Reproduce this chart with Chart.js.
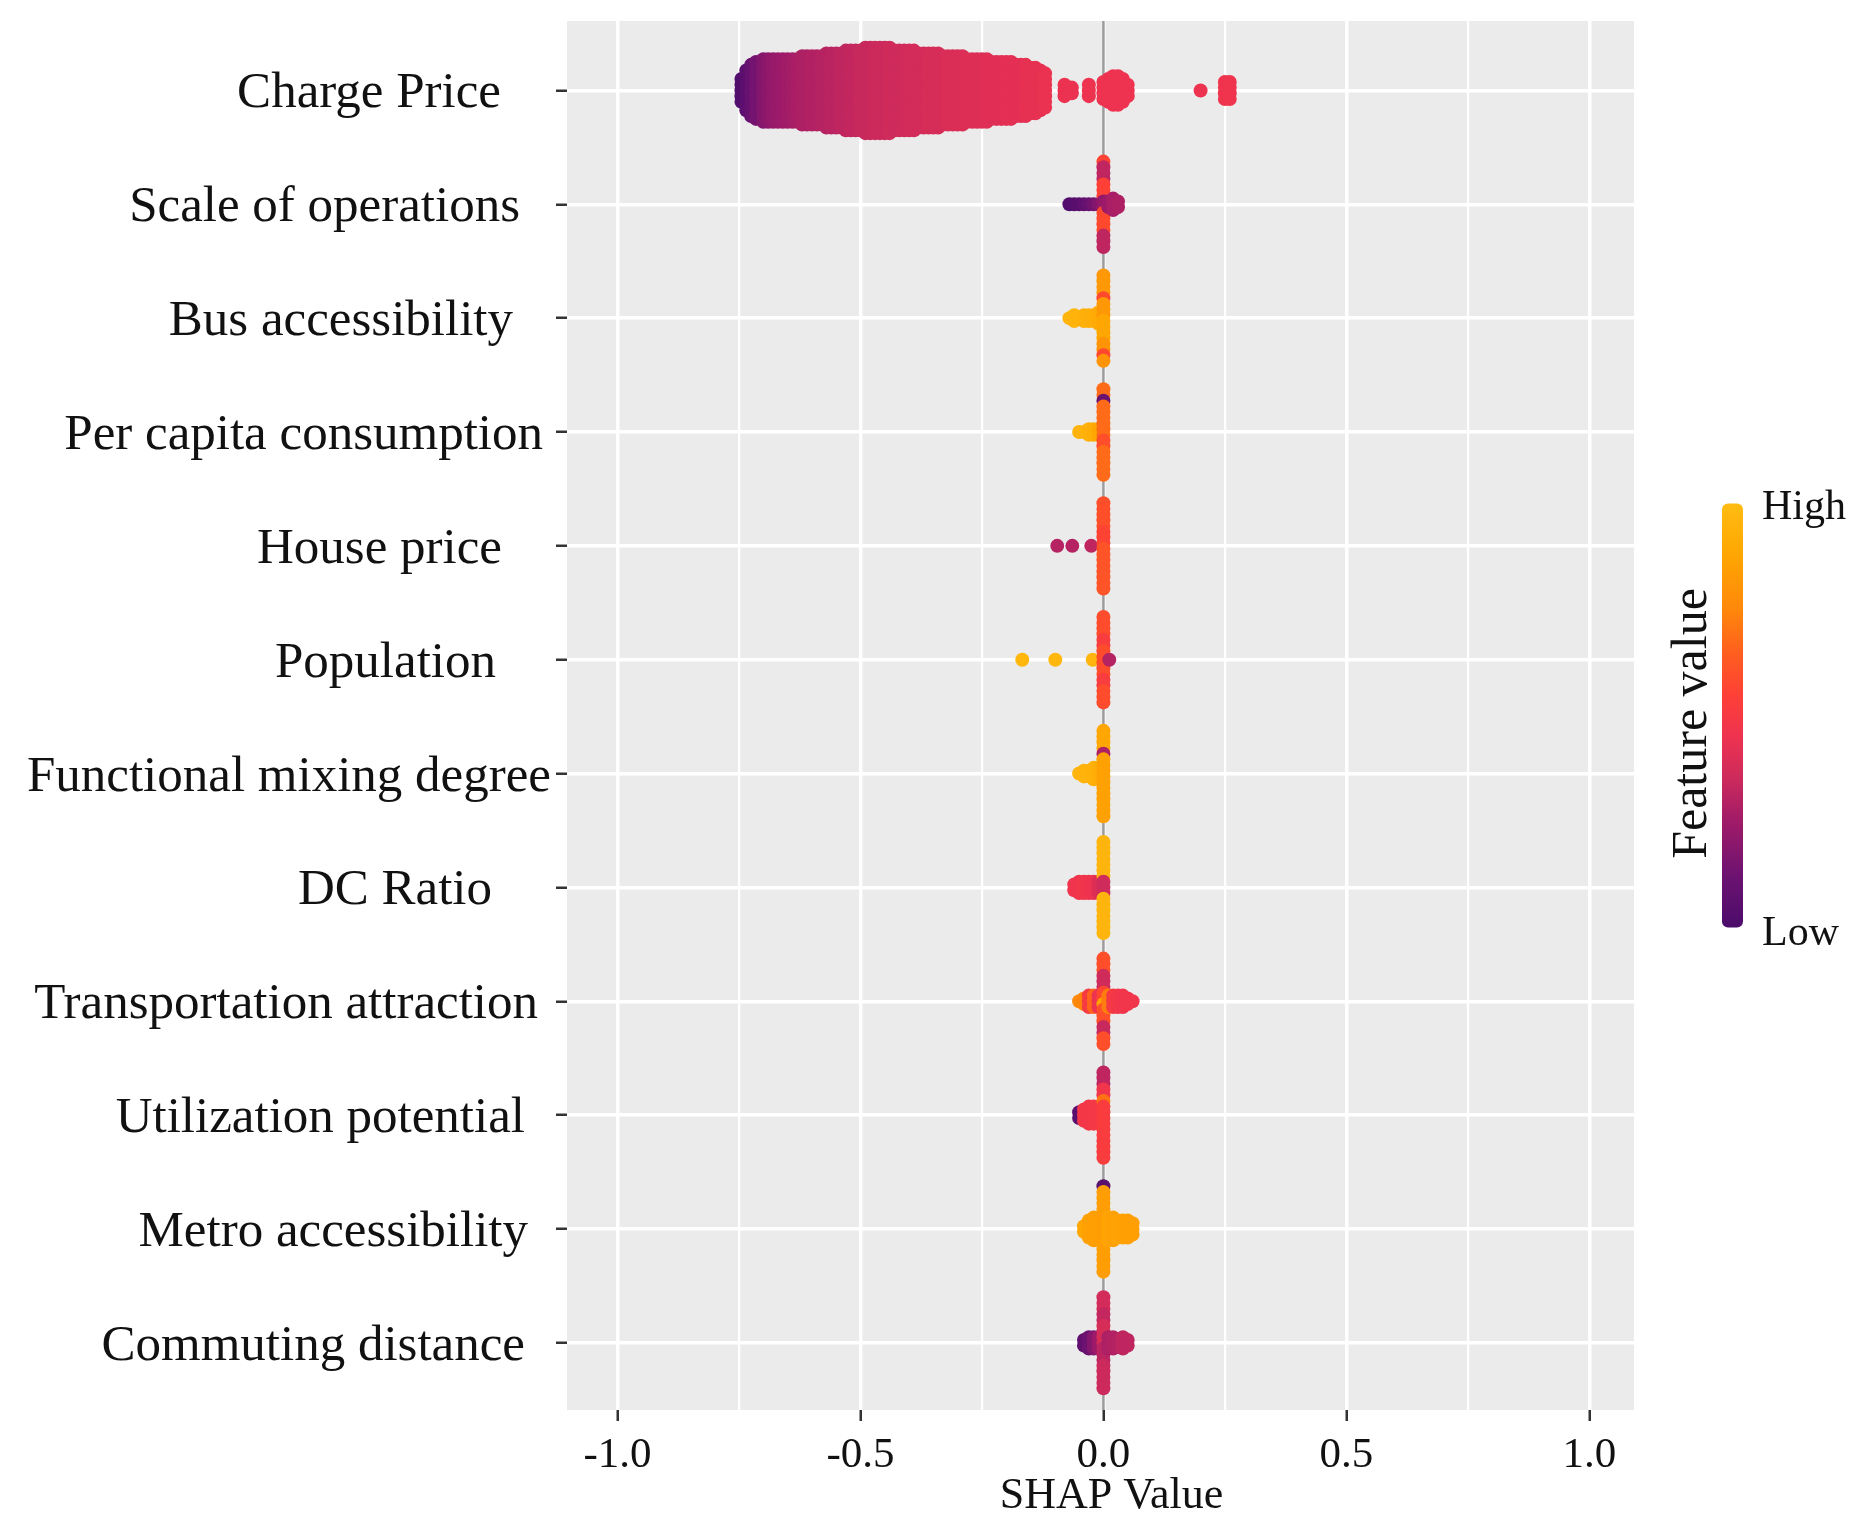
<!DOCTYPE html>
<html>
<head>
<meta charset="utf-8">
<script src="https://cdn.jsdelivr.net/npm/chart.js@4.4.1/dist/chart.umd.min.js"></script>
<style>
  html, body { margin: 0; background: #fff; }
  #wrap { width: 1861px; height: 1528px; }
</style>
</head>
<body>
<div id="wrap"><canvas id="shap"></canvas></div>
<script>
// feature names, top to bottom
const features = [
  "Charge Price", "Scale of operations", "Bus accessibility", "Per capita consumption",
  "House price", "Population", "Functional mixing degree", "DC Ratio",
  "Transportation attraction", "Utilization potential", "Metro accessibility", "Commuting distance"
];

// each row: [SHAP value, number of samples at that value, feature value 0..1]
const chargePrice = [
  [-0.745, 5, 0.03], [-0.735, 8, 0.06], [-0.725, 10, 0.10], [-0.715, 11, 0.14],
  [-0.70, 12, 0.18], [-0.69, 12, 0.20], [-0.68, 12, 0.22], [-0.67, 12, 0.23],
  [-0.66, 12, 0.24], [-0.65, 12, 0.25], [-0.64, 12, 0.26], [-0.63, 12, 0.27],
  [-0.62, 13, 0.28], [-0.61, 13, 0.28], [-0.60, 13, 0.29], [-0.59, 13, 0.29],
  [-0.58, 13, 0.30], [-0.57, 14, 0.30], [-0.56, 14, 0.31], [-0.55, 14, 0.31],
  [-0.54, 14, 0.32], [-0.53, 15, 0.32], [-0.52, 15, 0.33], [-0.51, 15, 0.33],
  [-0.50, 15, 0.34], [-0.49, 16, 0.34], [-0.48, 16, 0.34], [-0.47, 16, 0.35],
  [-0.46, 16, 0.35], [-0.45, 16, 0.35], [-0.44, 16, 0.36], [-0.43, 15, 0.36],
  [-0.42, 15, 0.36], [-0.41, 15, 0.36], [-0.40, 15, 0.37], [-0.39, 15, 0.37],
  [-0.38, 14, 0.37], [-0.37, 14, 0.37], [-0.36, 14, 0.38], [-0.35, 14, 0.38],
  [-0.34, 14, 0.38], [-0.33, 13, 0.38], [-0.32, 13, 0.39], [-0.31, 13, 0.39],
  [-0.30, 13, 0.39], [-0.29, 13, 0.39], [-0.28, 12, 0.40], [-0.27, 12, 0.40],
  [-0.26, 12, 0.40], [-0.25, 12, 0.40], [-0.24, 12, 0.41], [-0.23, 11, 0.41],
  [-0.22, 11, 0.41], [-0.21, 11, 0.41], [-0.20, 11, 0.42], [-0.19, 11, 0.42],
  [-0.18, 10, 0.42], [-0.17, 10, 0.42], [-0.16, 10, 0.43], [-0.15, 9, 0.43],
  [-0.14, 9, 0.43], [-0.13, 8, 0.43], [-0.12, 7, 0.44],
  [-0.08, 3, 0.44], [-0.065, 2, 0.44], [-0.03, 3, 0.45],
  [0.00, 4, 0.45], [0.01, 5, 0.45], [0.02, 6, 0.45], [0.03, 6, 0.45],
  [0.04, 5, 0.45], [0.05, 3, 0.45],
  [0.20, 1, 0.45], [0.25, 4, 0.46], [0.26, 4, 0.46]
];
const scaleOfOperations = [
  [-0.07, 1, 0.03], [-0.06, 1, 0.04], [-0.05, 1, 0.05], [-0.04, 1, 0.08],
  [-0.03, 1, 0.10], [-0.02, 1, 0.14], [-0.01, 1, 0.18],
  [0, 1, 0.56], [0, 3, 0.32], [0, 3, 0.55], [0, 2, 0.22], [0, 4, 0.58], [0, 3, 0.32],
  [0.01, 2, 0.24], [0.02, 3, 0.27], [0.03, 2, 0.28]
];
const busAccessibility = [
  [-0.07, 1, 0.96], [-0.06, 2, 0.95], [-0.05, 1, 0.95], [-0.04, 2, 0.94],
  [-0.03, 2, 0.93], [-0.02, 2, 0.92], [-0.01, 3, 0.90],
  [0, 4, 0.82], [0, 1, 0.58], [0, 3, 0.82], [0, 4, 0.88], [0, 2, 0.80], [0, 1, 0.58], [0, 1, 0.80]
];
const perCapitaConsumption = [
  [-0.05, 1, 0.95], [-0.04, 1, 0.95], [-0.03, 2, 0.94], [-0.02, 2, 0.92], [-0.01, 2, 0.88],
  [0, 2, 0.68], [0, 1, 0.12], [0, 6, 0.68], [0, 2, 0.60], [0, 5, 0.68]
];
const housePrice = [
  [-0.095, 1, 0.30], [-0.064, 1, 0.30], [-0.025, 1, 0.32],
  [0, 5, 0.60], [0, 3, 0.56], [0, 8, 0.61]
];
const population = [
  [-0.167, 1, 0.97], [-0.099, 1, 0.97], [-0.022, 1, 0.96],
  [0, 4, 0.59], [0, 2, 0.52], [0, 5, 0.59], [0, 2, 0.52], [0, 3, 0.59],
  [0.012, 1, 0.30]
];
const functionalMixingDegree = [
  [-0.05, 1, 0.96], [-0.04, 2, 0.95], [-0.03, 2, 0.95], [-0.02, 3, 0.94], [-0.01, 3, 0.92],
  [0, 4, 0.88], [0, 1, 0.28], [0, 11, 0.86]
];
const dcRatio = [
  [-0.06, 2, 0.46], [-0.05, 3, 0.46], [-0.04, 3, 0.47], [-0.03, 3, 0.46],
  [-0.02, 3, 0.45], [-0.01, 3, 0.40],
  [0, 7, 0.96], [0, 3, 0.36], [0, 7, 0.96]
];
const transportationAttraction = [
  [-0.05, 1, 0.76], [-0.04, 2, 0.74], [-0.03, 3, 0.50], [-0.02, 3, 0.66], [-0.01, 3, 0.45],
  [0, 3, 0.60], [0, 3, 0.36], [0, 2, 0.57], [0, 1, 0.86], [0, 3, 0.60], [0, 2, 0.34], [0, 2, 0.60],
  [0.01, 3, 0.72], [0.02, 3, 0.50], [0.03, 3, 0.48], [0.04, 3, 0.47], [0.05, 2, 0.47], [0.06, 1, 0.47]
];
const utilizationPotential = [
  [-0.05, 2, 0.05], [-0.04, 3, 0.48], [-0.03, 4, 0.48], [-0.02, 4, 0.49], [-0.01, 4, 0.49],
  [0, 3, 0.32], [0, 2, 0.47], [0, 1, 0.70], [0, 10, 0.52]
];
const metroAccessibility = [
  [-0.04, 2, 0.88], [-0.03, 4, 0.86], [-0.02, 5, 0.85], [-0.01, 5, 0.85],
  [0, 1, 0.05], [0, 15, 0.84],
  [0.01, 5, 0.87], [0.02, 5, 0.86], [0.03, 4, 0.87], [0.04, 4, 0.86], [0.05, 4, 0.85], [0.06, 3, 0.85]
];
const commutingDistance = [
  [-0.04, 2, 0.08], [-0.03, 3, 0.12], [-0.02, 3, 0.18], [-0.01, 3, 0.24],
  [0, 3, 0.37], [0, 2, 0.33], [0, 4, 0.38], [0, 3, 0.31], [0, 5, 0.35],
  [0.01, 3, 0.28], [0.02, 3, 0.29], [0.03, 2, 0.30], [0.04, 3, 0.32], [0.05, 2, 0.32]
];

const shapRows = [
  chargePrice, scaleOfOperations, busAccessibility, perCapitaConsumption,
  housePrice, population, functionalMixingDegree, dcRatio,
  transportationAttraction, utilizationPotential, metroAccessibility, commutingDistance
];

const xTickValues = [-1.0, -0.75, -0.5, -0.25, 0, 0.25, 0.5, 0.75, 1.0];
const xTitle = "SHAP Value";
const legendTitle = "Feature value";
const legendHigh = "High";
const legendLow = "Low";

// ---- styling ----
const FONT = '"Liberation Serif", "Times New Roman", serif';
const TEXT = "#111111";
const PANEL = "#ebebeb";
// how far each y label ends before the panel edge (px)
const labelGap = [66, 47, 54, 24, 65, 71, 16, 75, 29, 42, 39, 42];

const colorStops = [
  [0.00, "#4b0c6b"], [0.12, "#6c1271"], [0.25, "#a01b68"], [0.35, "#cc2a5c"],
  [0.45, "#ee3350"], [0.55, "#fe4036"], [0.65, "#ff5f1e"], [0.75, "#ff880a"],
  [0.88, "#ffa602"], [1.00, "#ffbc12"]
];

function hexRgb(h) {
  return [1, 3, 5].map(i => parseInt(h.slice(i, i + 2), 16));
}
function colorAt(v) {
  for (let i = 1; i < colorStops.length; i++) {
    const [p1, c1] = colorStops[i - 1];
    const [p2, c2] = colorStops[i];
    if (v <= p2 || i === colorStops.length - 1) {
      const t = Math.max(0, Math.min(1, (v - p1) / (p2 - p1)));
      const a = hexRgb(c1), b = hexRgb(c2);
      const m = a.map((x, k) => Math.round(x + (b[k] - x) * t));
      return `rgb(${m[0]},${m[1]},${m[2]})`;
    }
  }
}

// stack samples that share a SHAP value around the feature's row
const STEP = 0.05;
function swarm(rows, row) {
  const groups = new Map();
  rows.forEach(([x, n, v]) => {
    if (!groups.has(x)) groups.set(x, []);
    for (let i = 0; i < n; i++) groups.get(x).push(v);
  });
  const pts = [];
  groups.forEach((vals, x) => {
    const half = (vals.length - 1) * STEP / 2;
    vals.forEach((v, i) => pts.push({ x: x, y: row - half + i * STEP, v: v }));
  });
  return pts;
}

const panelPlugin = {
  id: "panel",
  beforeDraw(chart) {
    const { ctx, chartArea: a } = chart;
    ctx.save();
    ctx.fillStyle = "#fff";
    ctx.fillRect(0, 0, chart.width, chart.height);
    ctx.fillStyle = PANEL;
    ctx.fillRect(a.left, a.top, a.right - a.left, a.bottom - a.top);
    ctx.restore();
  },
  beforeDatasetsDraw(chart) {
    const { ctx, chartArea: a, scales } = chart;
    const x0 = scales.x.getPixelForValue(0);
    ctx.save();
    ctx.strokeStyle = "#9b9b9b";
    ctx.lineWidth = 2.5;
    ctx.beginPath();
    ctx.moveTo(x0, a.top);
    ctx.lineTo(x0, a.bottom);
    ctx.stroke();
    ctx.restore();
  },
  afterDraw(chart) {
    const { ctx, chartArea: a, scales } = chart;
    ctx.save();
    ctx.fillStyle = TEXT;

    // feature labels
    ctx.font = `51px ${FONT}`;
    ctx.textAlign = "right";
    ctx.textBaseline = "alphabetic";
    features.forEach((name, i) => {
      const y = scales.y.getPixelForValue(i + 1);
      ctx.fillText(name, a.left - labelGap[i], y + 17);
    });

    // x axis title
    ctx.font = `44px ${FONT}`;
    ctx.textAlign = "center";
    ctx.fillText(xTitle, (a.left + a.right) / 2 + 11, a.bottom + 98);

    // colour bar
    const bx = a.right + 88, bw = 21;
    const mid = (a.top + a.bottom) / 2;
    const bTop = mid - 212, bBot = mid + 212;
    const grad = ctx.createLinearGradient(0, bBot, 0, bTop);
    colorStops.forEach(([p, c]) => grad.addColorStop(p, c));
    ctx.fillStyle = grad;
    ctx.beginPath();
    ctx.roundRect(bx, bTop, bw, bBot - bTop, 6);
    ctx.fill();

    ctx.fillStyle = TEXT;
    ctx.font = `42px ${FONT}`;
    ctx.textAlign = "left";
    ctx.fillText(legendHigh, bx + bw + 19, bTop + 15);
    ctx.fillText(legendLow, bx + bw + 19, bBot + 17);

    ctx.font = `50px ${FONT}`;
    ctx.textAlign = "center";
    ctx.translate(bx - 16, mid + 8);
    ctx.rotate(-Math.PI / 2);
    ctx.fillText(legendTitle, 0, 0);
    ctx.restore();
  }
};

const datasets = features.map((name, i) => ({
  label: name,
  data: swarm(shapRows[i], i + 1),
  pointRadius: 7,
  pointHoverRadius: 7,
  pointBorderWidth: 0,
  pointBackgroundColor: ctx => (ctx.raw ? colorAt(ctx.raw.v) : "#000")
}));

new Chart(document.getElementById("shap"), {
  type: "scatter",
  data: { datasets },
  plugins: [panelPlugin],
  options: {
    responsive: true,
    maintainAspectRatio: false,
    animation: false,
    layout: { padding: { top: 21, right: 227, left: 0, bottom: 0 } },
    plugins: { legend: { display: false }, tooltip: { enabled: false } },
    scales: {
      x: {
        type: "linear",
        min: -1.104,
        max: 1.092,
        afterBuildTicks: scale => { scale.ticks = xTickValues.map(v => ({ value: v })); },
        afterFit: scale => { scale.height = 118; },
        border: { display: false },
        grid: {
          color: "#ffffff",
          lineWidth: c => (Math.abs(c.tick.value * 2 - Math.round(c.tick.value * 2)) < 1e-6 ? 3.5 : 2.2),
          tickColor: c => (Math.abs(c.tick.value * 2 - Math.round(c.tick.value * 2)) < 1e-6 ? "#333333" : "rgba(0,0,0,0)"),
          tickWidth: 2.5,
          tickLength: 11
        },
        ticks: {
          autoSkip: false,
          maxRotation: 0,
          padding: 9,
          color: TEXT,
          font: { family: FONT, size: 43 },
          callback: v => (Math.abs(v * 2 - Math.round(v * 2)) < 1e-6 ? Number(v).toFixed(1) : "")
        }
      },
      y: {
        type: "linear",
        reverse: true,
        min: 0.39,
        max: 12.59,
        afterBuildTicks: scale => { scale.ticks = features.map((_, i) => ({ value: i + 1 })); },
        afterFit: scale => { scale.width = 567; },
        border: { display: false },
        grid: {
          color: "#ffffff",
          lineWidth: 3.5,
          tickColor: "#333333",
          tickWidth: 2.5,
          tickLength: 11
        },
        ticks: { display: false }
      }
    }
  }
});
</script>
</body>
</html>
